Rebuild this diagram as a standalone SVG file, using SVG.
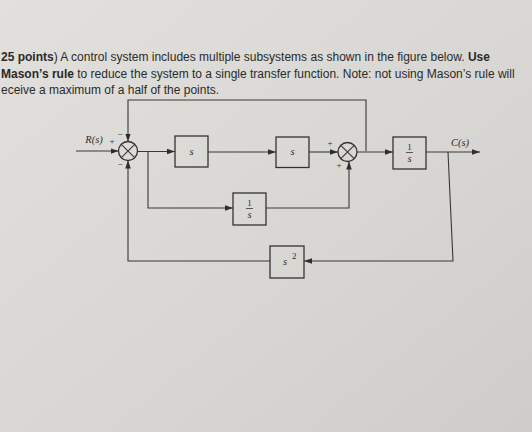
<svg xmlns="http://www.w3.org/2000/svg" width="532" height="432" viewBox="0 0 532 432">
<defs>
<linearGradient id="bg" x1="0" y1="0" x2="1" y2="1">
<stop offset="0" stop-color="#e2e0dc"/>
<stop offset="0.6" stop-color="#d8d6d2"/>
<stop offset="1" stop-color="#cfcdc9"/>
</linearGradient>
<marker id="arr" viewBox="0 0 10 10" refX="10" refY="5" markerWidth="8" markerHeight="8" markerUnits="userSpaceOnUse" orient="auto">
<path d="M0,1.5 L10,5 L0,8.5 Z" fill="#2e2e2e"/>
</marker>
</defs>
<style>
.q{font-family:"Liberation Sans",Arial,sans-serif;font-size:12px;fill:#2a2a2a}
.b{font-weight:bold}
.blk{fill:none;stroke:#333;stroke-width:1.3}
.ln{fill:none;stroke:#383838;stroke-width:1.1}
.lbl{font-family:"Liberation Serif",serif;font-style:italic;font-size:10.5px;fill:#2a2a2a}
.sg{font-family:"Liberation Serif",serif;font-size:9px;fill:#2a2a2a}
.frac{stroke:#333;stroke-width:0.8}
</style>
<rect width="532" height="432" fill="url(#bg)"/>
<g id="question">
<text class="q" x="1" y="61" font-size="12.1"><tspan class="b">25 points</tspan>) A control system includes multiple subsystems as shown in the figure below. <tspan class="b">Use</tspan></text>
<text class="q" x="1" y="78" font-size="11.8"><tspan class="b">Mason’s rule</tspan> to reduce the system to a single transfer function. Note: not using Mason’s rule will</text>
<text class="q" x="1" y="94">eceive a maximum of a half of the points.</text>
</g>
<g id="connectors">
<line class="ln" x1="76" y1="151" x2="118.5" y2="151" marker-end="url(#arr)"/>
<polyline class="ln" points="366,151 366,100 128,100 128,141.5" marker-end="url(#arr)"/>
<polyline class="ln" points="270,261 128,261 128,160.5" marker-end="url(#arr)"/>
<line class="ln" x1="137.5" y1="151.5" x2="175" y2="151.5" marker-end="url(#arr)"/>
<polyline class="ln" points="148,151.5 148,208 233,208" marker-end="url(#arr)"/>
<polyline class="ln" points="266,208 349,208 349,161.5" marker-end="url(#arr)"/>
<line class="ln" x1="208" y1="152" x2="276" y2="152" marker-end="url(#arr)"/>
<line class="ln" x1="309" y1="152" x2="338" y2="152" marker-end="url(#arr)"/>
<line class="ln" x1="357" y1="152" x2="393" y2="152" marker-end="url(#arr)"/>
<line class="ln" x1="426" y1="152" x2="480" y2="152" marker-end="url(#arr)"/>
<polyline class="ln" points="448,152 453,261 304,261" marker-end="url(#arr)"/>
</g>
<g id="sum1">
<circle class="blk" cx="128" cy="151" r="9.5"/>
<line class="ln" x1="121.3" y1="144.3" x2="134.7" y2="157.7"/>
<line class="ln" x1="134.7" y1="144.3" x2="121.3" y2="157.7"/>
<text class="sg" x="112" y="144" text-anchor="middle">+</text>
<text class="sg" x="120" y="137" text-anchor="middle">−</text>
<text class="sg" x="120" y="167" text-anchor="middle">−</text>
</g>
<g id="sum2">
<circle class="blk" cx="347.5" cy="152" r="9.5"/>
<line class="ln" x1="340.8" y1="145.3" x2="354.2" y2="158.7"/>
<line class="ln" x1="354.2" y1="145.3" x2="340.8" y2="158.7"/>
<text class="sg" x="330" y="146" text-anchor="middle">+</text>
<text class="sg" x="339" y="168" text-anchor="middle">+</text>
</g>
<g id="input">
<text class="lbl" x="94" y="143" text-anchor="middle">R(s)</text>
</g>
<g id="output">
<text class="lbl" x="460" y="146" text-anchor="middle">C(s)</text>
</g>
<g id="block-s1">
<rect class="blk" x="175" y="136" width="33" height="31"/>
<text class="lbl" x="191.5" y="155" text-anchor="middle">s</text>
</g>
<g id="block-s2">
<rect class="blk" x="276" y="137" width="33" height="30.5"/>
<text class="lbl" x="292.5" y="155" text-anchor="middle">s</text>
</g>
<g id="block-inv1">
<rect class="blk" x="393" y="137" width="33" height="32"/>
<text class="sg" x="409.5" y="150" text-anchor="middle">1</text>
<line class="frac" x1="406" y1="152.5" x2="413" y2="152.5"/>
<text class="lbl" x="409.5" y="161.5" text-anchor="middle">s</text>
</g>
<g id="block-inv2">
<rect class="blk" x="233" y="193" width="33" height="32"/>
<text class="sg" x="249.5" y="206" text-anchor="middle">1</text>
<line class="frac" x1="246" y1="208.5" x2="253" y2="208.5"/>
<text class="lbl" x="249.5" y="217.5" text-anchor="middle">s</text>
</g>
<g id="block-s-squared">
<rect class="blk" x="270" y="246" width="34" height="32"/>
<text class="lbl" x="285" y="265" text-anchor="middle">s</text>
<text class="sg" x="292" y="259" font-size="8">2</text>
</g>
</svg>
